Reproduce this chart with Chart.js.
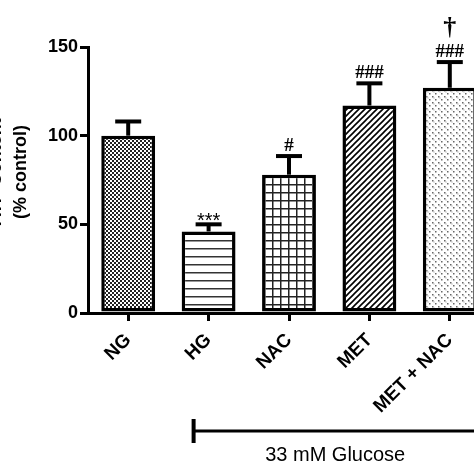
<!DOCTYPE html>
<html>
<head>
<meta charset="utf-8">
<script src="https://cdn.jsdelivr.net/npm/chart.js@4"></script>
<style>
	html, body { margin: 0; padding: 0; background: #fff; overflow: hidden; }
	#wrap { position: absolute; left: 0; top: 0; width: 520px; height: 474px; }
</style>
</head>
<body>
<div id="wrap"><canvas id="chart" width="520" height="474"></canvas></div>
<script>
// Bar chart with SEM bars and significance marks

const groups = ['NG', 'HG', 'NAC', 'MET', 'MET + NAC'];
const means = [100, 46, 78, 117, 127];
const errors = [8, 4, 10.5, 12.5, 14.5];
const marks = ['', '***', '#', '###', '###'];
const daggers = ['', '', '', '', '†'];
const yTicks = [0, 50, 100, 150];

const FONT = '"Liberation Sans", Arial, sans-serif';
const SERIF = '"Liberation Serif", "Times New Roman", serif';

// ---- fill patterns ----
function makePattern(size, draw) {
	const c = document.createElement('canvas');
	c.width = c.height = size;
	const g = c.getContext('2d');
	g.fillStyle = '#fff';
	g.fillRect(0, 0, size, size);
	g.fillStyle = '#000';
	g.strokeStyle = '#000';
	draw(g, size);
	return g.createPattern(c, 'repeat');
}

const patterns = [
	// checker
	makePattern(4, (g) => {
		g.fillStyle = '#222';
		g.fillRect(0, 0, 2, 2);
		g.fillRect(2, 2, 2, 2);
	}),
	// horizontal lines
	makePattern(8, (g) => {
		g.fillStyle = '#333';
		g.fillRect(0, 0, 8, 1.5);
	}),
	// grid
	makePattern(8, (g) => {
		g.fillStyle = '#222';
		g.fillRect(0, 0, 8, 1.5);
		g.fillRect(0, 0, 1.5, 8);
	}),
	// diagonal hatch
	makePattern(6, (g) => {
		g.lineWidth = 1.6;
		g.beginPath();
		g.moveTo(-1, 7); g.lineTo(7, -1);
		g.moveTo(-4, 4); g.lineTo(4, -4);
		g.moveTo(2, 10); g.lineTo(10, 2);
		g.stroke();
	}),
	// light dots
	makePattern(6, (g) => {
		g.fillStyle = '#666';
		g.fillRect(0, 0, 1.5, 1.5);
		g.fillRect(3, 3, 1.5, 1.5);
		g.fillStyle = '#999';
		g.fillRect(1.5, 1.5, 1, 1);
	})
];

// ---- error bars, marks, y title, glucose bracket ----
const extras = {
	id: 'extras',
	afterDatasetsDraw(chart) {
		const ctx = chart.ctx;
		const y = chart.scales.y;
		const x = chart.scales.x;
		const meta = chart.getDatasetMeta(0);
		ctx.save();
		ctx.strokeStyle = '#000';
		ctx.fillStyle = '#000';
		meta.data.forEach((bar, i) => {
			const top = y.getPixelForValue(means[i]);
			const ey = y.getPixelForValue(means[i] + errors[i]);
			ctx.lineWidth = 4;
			ctx.beginPath();
			ctx.moveTo(bar.x, top);
			ctx.lineTo(bar.x, ey);
			ctx.stroke();
			ctx.lineWidth = 4;
			ctx.beginPath();
			ctx.moveTo(bar.x - 13, ey);
			ctx.lineTo(bar.x + 13, ey);
			ctx.stroke();

			ctx.textAlign = 'center';
			ctx.textBaseline = 'alphabetic';
			if (marks[i] === '***') {
				ctx.font = '20px ' + FONT;
				ctx.fillText(marks[i], bar.x, ey + 3);
			} else if (marks[i]) {
				ctx.font = 'bold 19px ' + SERIF;
				ctx.fillText(marks[i], bar.x, ey - 5);
			}
			if (daggers[i]) {
				ctx.font = 'bold 26px ' + SERIF;
				ctx.fillText(daggers[i], bar.x, ey - 27);
			}
		});

		// y axis title
		ctx.save();
		ctx.translate(21, 172);
		ctx.rotate(-Math.PI / 2);
		ctx.font = 'bold 18px ' + FONT;
		ctx.textAlign = 'center';
		ctx.textBaseline = 'middle';
		ctx.fillText('(% control)', 0, 0);
		ctx.fillText('ATP Content', 0, -25);
		ctx.restore();

		// 33 mM glucose bracket
		const x0 = x.getPixelForValue(1) - 15;
		ctx.lineWidth = 3;
		ctx.beginPath();
		ctx.moveTo(x0, 431);
		ctx.lineTo(chart.width, 431);
		ctx.stroke();
		ctx.lineWidth = 4;
		ctx.beginPath();
		ctx.moveTo(x0, 419);
		ctx.lineTo(x0, 443);
		ctx.stroke();
		ctx.font = '20px ' + FONT;
		ctx.textAlign = 'center';
		ctx.textBaseline = 'middle';
		ctx.fillText('33 mM Glucose', (x.getPixelForValue(1) + x.getPixelForValue(4)) / 2 + 6, 455);
		ctx.restore();
	}
};

new Chart(document.getElementById('chart'), {
	type: 'bar',
	data: {
		labels: groups,
		datasets: [{
			data: means,
			backgroundColor: patterns,
			borderColor: '#000',
			borderWidth: 3.5,
			borderSkipped: false,
			barPercentage: 0.67,
			categoryPercentage: 1
		}]
	},
	options: {
		responsive: false,
		animation: false,
		layout: { padding: { top: 47, right: 30, left: 0, bottom: 0 } },
		plugins: {
			legend: { display: false },
			tooltip: { enabled: false }
		},
		scales: {
			x: {
				afterFit: (s) => { s.height = 161; },
				border: { display: true, color: '#000', width: 3 },
				grid: {
					offset: false,
					drawOnChartArea: false,
					drawTicks: true,
					tickLength: 8,
					color: '#000',
					lineWidth: 3
				},
				ticks: {
					color: '#000',
					font: { family: FONT, size: 19, weight: 'bold' },
					minRotation: 45,
					maxRotation: 45,
					padding: 8
				}
			},
			y: {
				min: 0,
				max: 150,
				afterFit: (s) => { s.width = 88; },
				afterBuildTicks: (s) => { s.ticks = yTicks.map(v => ({ value: v })); },
				border: { display: true, color: '#000', width: 3 },
				grid: {
					drawOnChartArea: false,
					drawTicks: true,
					tickLength: 8,
					color: '#000',
					lineWidth: 3
				},
				ticks: {
					color: '#000',
					font: { family: FONT, size: 18, weight: 'bold' },
					padding: 2
				}
			}
		}
	},
	plugins: [extras]
});
</script>
</body>
</html>
